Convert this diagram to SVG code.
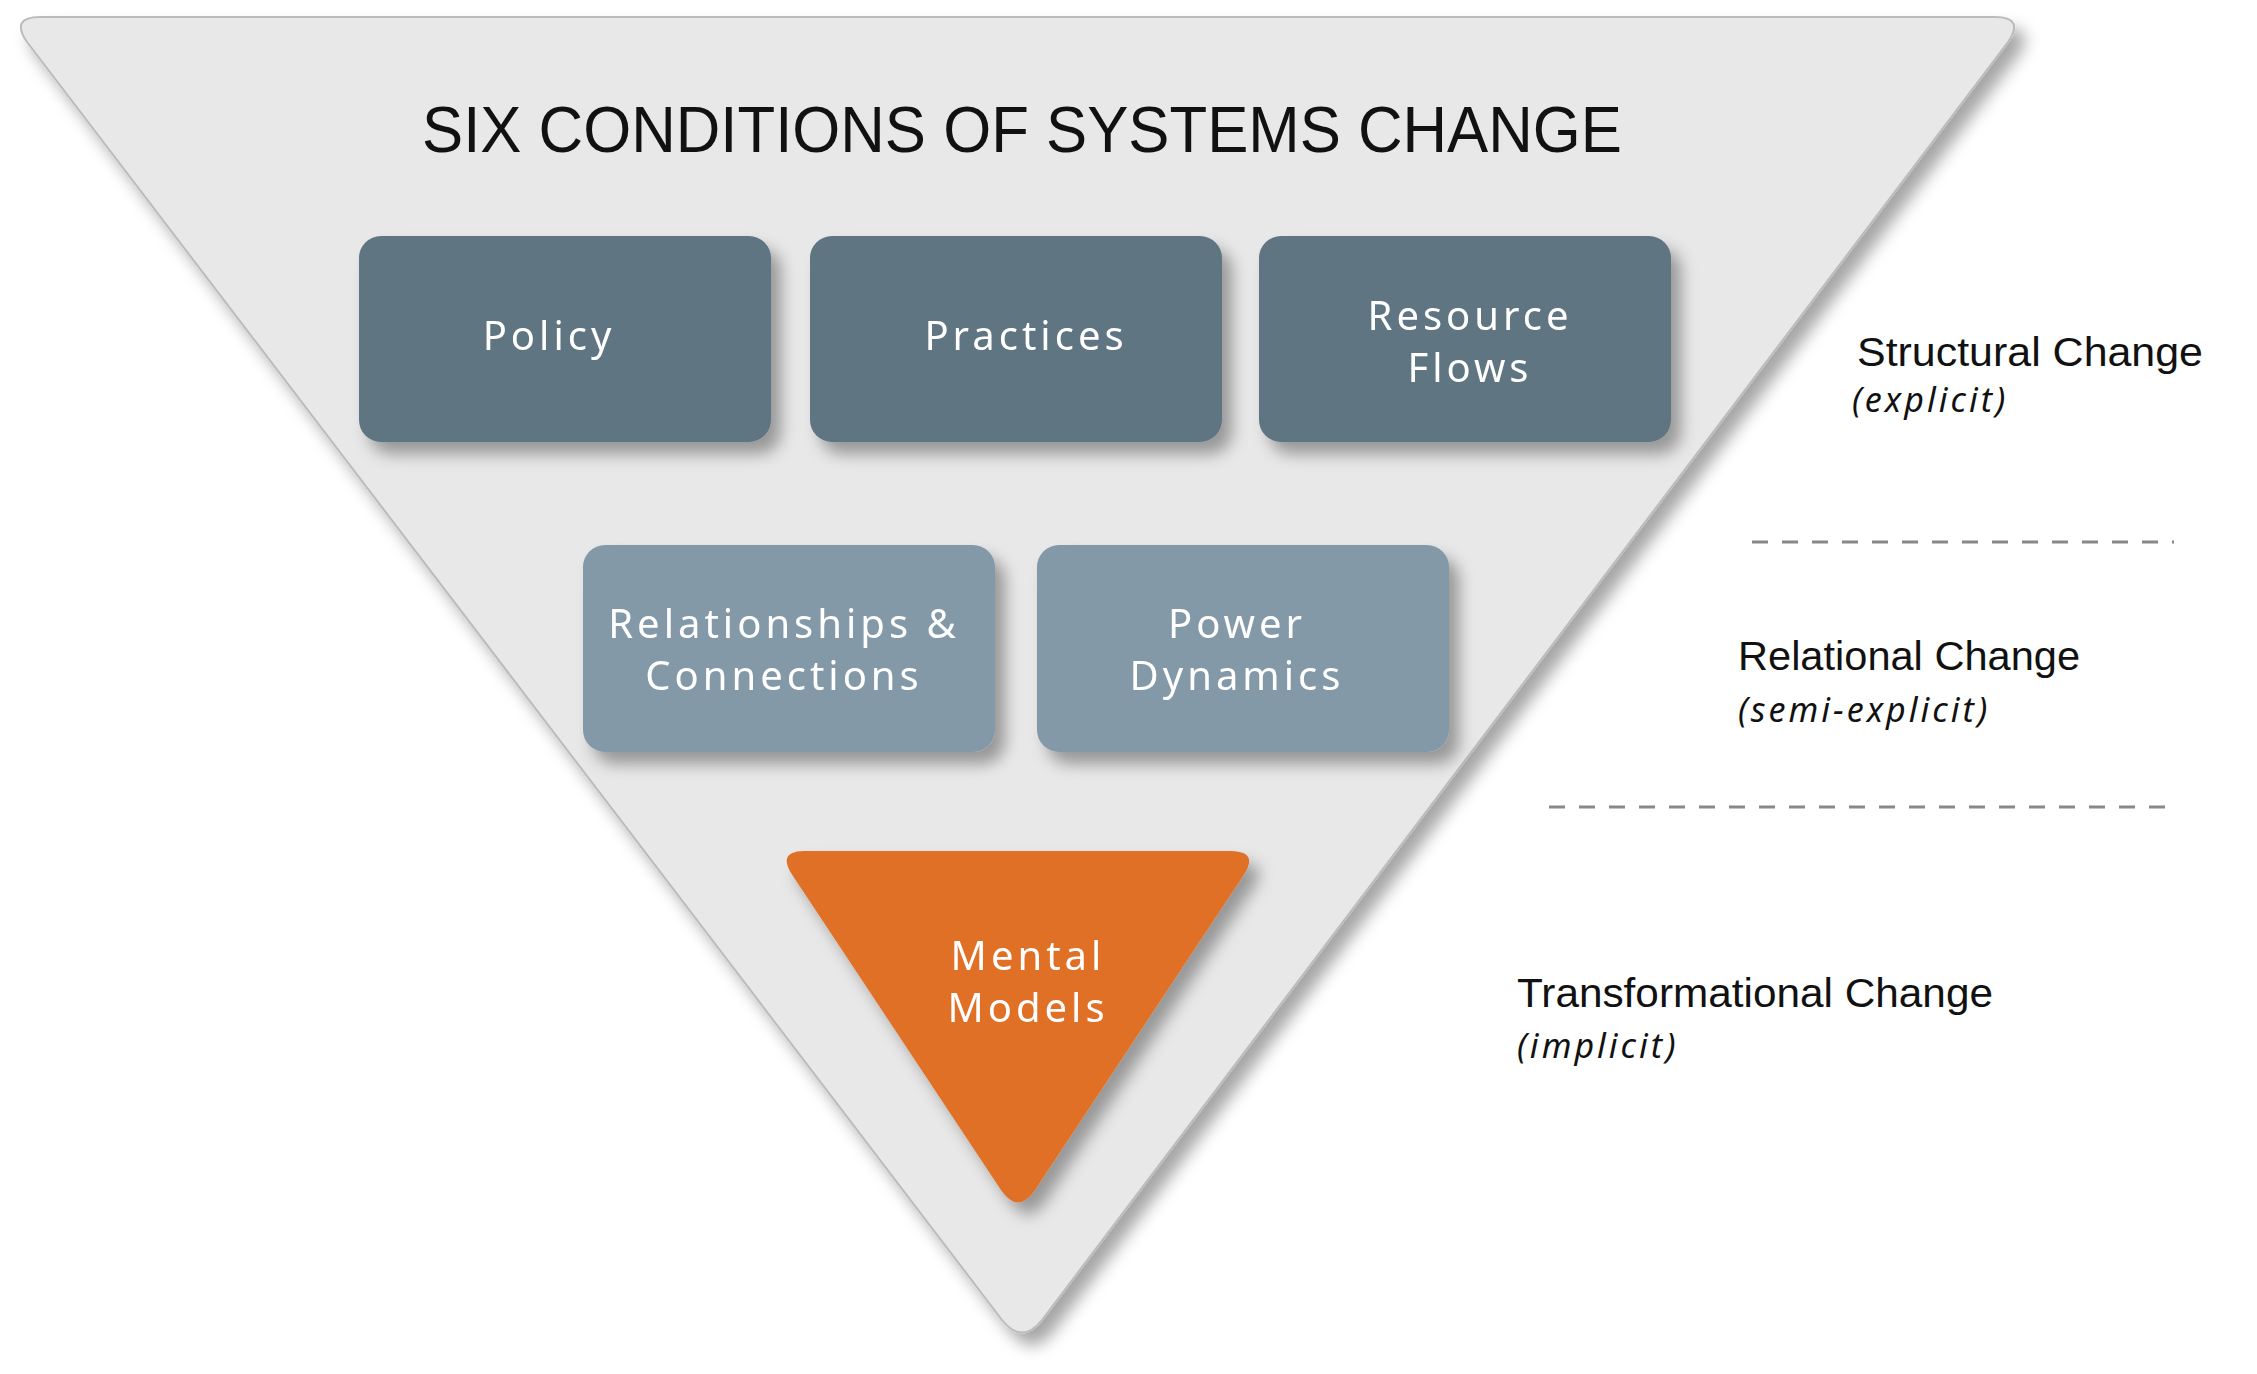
<svg xmlns="http://www.w3.org/2000/svg" width="2257" height="1374" viewBox="0 0 2257 1374">
<defs>
<style>
.box text{fill:#fff;font-family:"Noto Sans",sans-serif;font-size:40px;letter-spacing:4px;text-anchor:middle}
.dark{fill:#5e7482}
.light{fill:#8499a8}
.lbl{font-family:"Liberation Sans",sans-serif;font-size:40px;fill:#111}
.sub{font-family:"Noto Sans",sans-serif;font-style:italic;font-size:34px;letter-spacing:3px;fill:#111}
.dash{stroke:#888;stroke-width:3;stroke-dasharray:16 14}
</style>
<filter id="sh" x="-20%" y="-20%" width="150%" height="150%">
<feDropShadow dx="10" dy="12" stdDeviation="8" flood-color="#000" flood-opacity="0.35"/>
</filter>
</defs>
<g id="pyramid" filter="url(#sh)">
<path d="M40,17 L1995,17 Q2025,17 2008,42 L1042,1320 Q1022,1345 1002,1320 L27,42 Q10,17 40,17 Z" fill="#e8e8e8" stroke="#bbb" stroke-width="2"/>
</g>
<text x="422" y="152" textLength="1200" lengthAdjust="spacingAndGlyphs" font-family="Liberation Sans,sans-serif" font-size="64" fill="#111">SIX CONDITIONS OF SYSTEMS CHANGE</text>
<g id="policy" class="box" filter="url(#sh)"><rect x="359" y="236" width="412" height="206" rx="22" class="dark"/><text x="549" y="350">Policy</text></g>
<g id="practices" class="box" filter="url(#sh)"><rect x="810" y="236" width="412" height="206" rx="22" class="dark"/><text x="1026" y="350">Practices</text></g>
<g id="resource" class="box" filter="url(#sh)"><rect x="1259" y="236" width="412" height="206" rx="22" class="dark"/><text x="1470" y="330">Resource</text><text x="1470" y="382">Flows</text></g>
<g id="relationships" class="box" filter="url(#sh)"><rect x="583" y="545" width="412" height="207" rx="22" class="light"/><text x="784" y="638">Relationships &amp;</text><text x="784" y="690">Connections</text></g>
<g id="power" class="box" filter="url(#sh)"><rect x="1037" y="545" width="412" height="207" rx="22" class="light"/><text x="1237" y="638">Power</text><text x="1237" y="690">Dynamics</text></g>
<g id="mental" class="box" filter="url(#sh)"><path d="M805,851 L1230,851 Q1260,851 1243,876 L1035,1190 Q1018,1215 1001,1190 L793,876 Q776,851 805,851 Z" fill="#e07026"/><text x="1028" y="970">Mental</text><text x="1028" y="1022">Models</text></g>
<g id="connectors">
<line x1="1752" y1="542" x2="2174" y2="542" class="dash"/>
<line x1="1549" y1="807" x2="2174" y2="807" class="dash"/>
</g>
<g id="labels">
<text x="1857" y="366" class="lbl" textLength="346" lengthAdjust="spacingAndGlyphs">Structural Change</text>
<text x="1852" y="412" class="sub">(explicit)</text>
<text x="1738" y="670" class="lbl" textLength="342" lengthAdjust="spacingAndGlyphs">Relational Change</text>
<text x="1738" y="722" class="sub">(semi-explicit)</text>
<text x="1517" y="1007" class="lbl" textLength="476" lengthAdjust="spacingAndGlyphs">Transformational Change</text>
<text x="1517" y="1058" class="sub">(implicit)</text>
</g>
</svg>
